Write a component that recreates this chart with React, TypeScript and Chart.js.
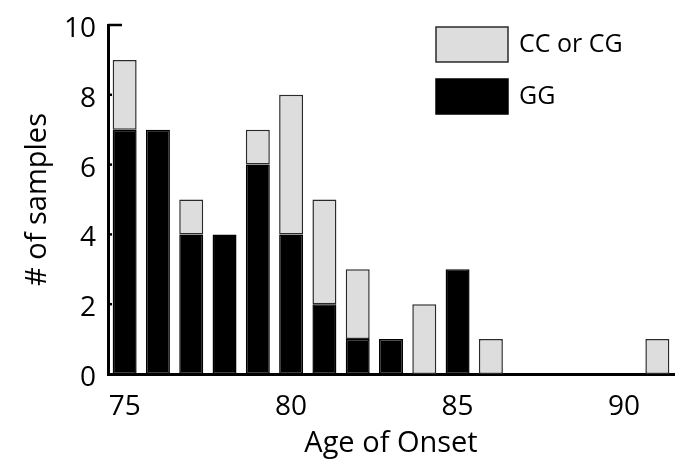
import React, { useEffect, useRef } from "react";
import { Chart, registerables } from "chart.js";

Chart.register(...registerables);

const ages = [75, 76, 77, 78, 79, 80, 81, 82, 83, 84, 85, 86, 87, 88, 89, 90, 91];
const ggCounts = [7, 7, 4, 4, 6, 4, 2, 1, 1, 0, 3, 0, 0, 0, 0, 0, 0];
const ccCgCounts = [2, 0, 1, 0, 1, 4, 3, 2, 0, 2, 0, 1, 0, 0, 0, 0, 1];
const xTickLabels = ["75", "80", "85", "90"];
const yTickValues = [0, 2, 4, 6, 8, 10];
const seriesNames = ["CC or CG", "GG"];

const FONT = "'Open Sans', 'DejaVu Sans', sans-serif";
const GRAY = "#dddddd";
const EDGE = "#2a2a2a";
const TEXT = "#000";

const customDraw = {
  id: "customDraw",
  beforeDatasetsDraw(chart: any) {
    const { ctx, chartArea, scales } = chart;
    const y = scales.y;
    ctx.save();
    ctx.strokeStyle = "#000";
    ctx.lineWidth = 2.5;
    yTickValues.forEach((v) => {
      if (v === 0) return;
      const py = y.getPixelForValue(v);
      const len = v === 10 ? 14 : 4;
      ctx.beginPath();
      ctx.moveTo(chartArea.left, py);
      ctx.lineTo(chartArea.left + len, py);
      ctx.stroke();
    });
    ctx.restore();
  },
  afterDraw(chart: any) {
    const { ctx, chartArea } = chart;
    ctx.save();
    const bx = chartArea.right - 238;
    const by = chartArea.top + 2;
    const items = [
      { label: seriesNames[0], fill: GRAY, stroke: EDGE },
      { label: seriesNames[1], fill: "#000", stroke: "#000" },
    ];
    items.forEach((it, i) => {
      const top = by + i * 52;
      ctx.fillStyle = it.fill;
      ctx.fillRect(bx, top, 72, 35);
      ctx.strokeStyle = it.stroke;
      ctx.lineWidth = 1.5;
      ctx.strokeRect(bx, top, 72, 35);
      ctx.fillStyle = TEXT;
      ctx.font = `25px ${FONT}`;
      ctx.textBaseline = "middle";
      ctx.textAlign = "left";
      ctx.fillText(it.label, bx + 83, top + 18);
    });
    ctx.restore();
  },
};

export default function App() {
  const ref = useRef<HTMLCanvasElement | null>(null);

  useEffect(() => {
    if (!ref.current) return;
    const chart = new Chart(ref.current, {
      type: "bar",
      data: {
        labels: ages.map(String),
        datasets: [
          {
            label: seriesNames[1],
            data: ggCounts.map((v) => (v ? v : null)),
            backgroundColor: "#000",
            borderColor: "#000",
            borderWidth: 1.5,
            borderSkipped: false,
            stack: "s",
          },
          {
            label: seriesNames[0],
            data: ccCgCounts.map((v) => (v ? v : null)),
            backgroundColor: GRAY,
            borderColor: EDGE,
            borderWidth: 1.5,
            borderSkipped: false,
            stack: "s",
          },
        ],
      },
      options: {
        animation: false,
        responsive: true,
        maintainAspectRatio: false,
        layout: { padding: { left: 0, top: 25, right: 11, bottom: 0 } },
        plugins: {
          legend: { display: false },
          tooltip: { enabled: false },
        },
        scales: {
          x: {
            stacked: true,
            grid: { display: false },
            border: { display: true, color: "#000", width: 3 },
            categoryPercentage: 1,
            barPercentage: 0.72,
            ticks: {
              autoSkip: false,
              maxRotation: 0,
              padding: 8,
              color: TEXT,
              font: { family: FONT, size: 28 },
              callback: function (this: any, _v: any, idx: number) {
                const lab = String(ages[idx]);
                return xTickLabels.includes(lab) ? lab : "";
              },
            },
            title: {
              display: true,
              text: "Age of Onset",
              color: TEXT,
              font: { family: FONT, size: 29 },
              padding: { top: 0, bottom: 12 },
            },
            afterFit: (scale: any) => {
              scale.height = 99;
              scale.paddingLeft = 0;
              scale.paddingRight = 0;
            },
          } as any,
          y: {
            stacked: true,
            min: 0,
            max: 10,
            grid: { display: false },
            border: { display: true, color: "#000", width: 3 },
            ticks: {
              stepSize: 2,
              padding: 4,
              labelOffset: 4,
              color: TEXT,
              font: { family: FONT, size: 28 },
            },
            title: {
              display: true,
              text: "# of samples",
              color: TEXT,
              font: { family: FONT, size: 29 },
              padding: { top: 20, bottom: 0 },
            },
            afterFit: (scale: any) => {
              scale.width = 108;
              scale.paddingTop = 0;
              scale.paddingBottom = 0;
            },
          } as any,
        },
      },
      plugins: [customDraw],
    });
    return () => chart.destroy();
  }, []);

  return (
    <div style={{ position: "absolute", left: 0, top: 0, width: 685, height: 473 }}>
      <canvas ref={ref} />
    </div>
  );
}
